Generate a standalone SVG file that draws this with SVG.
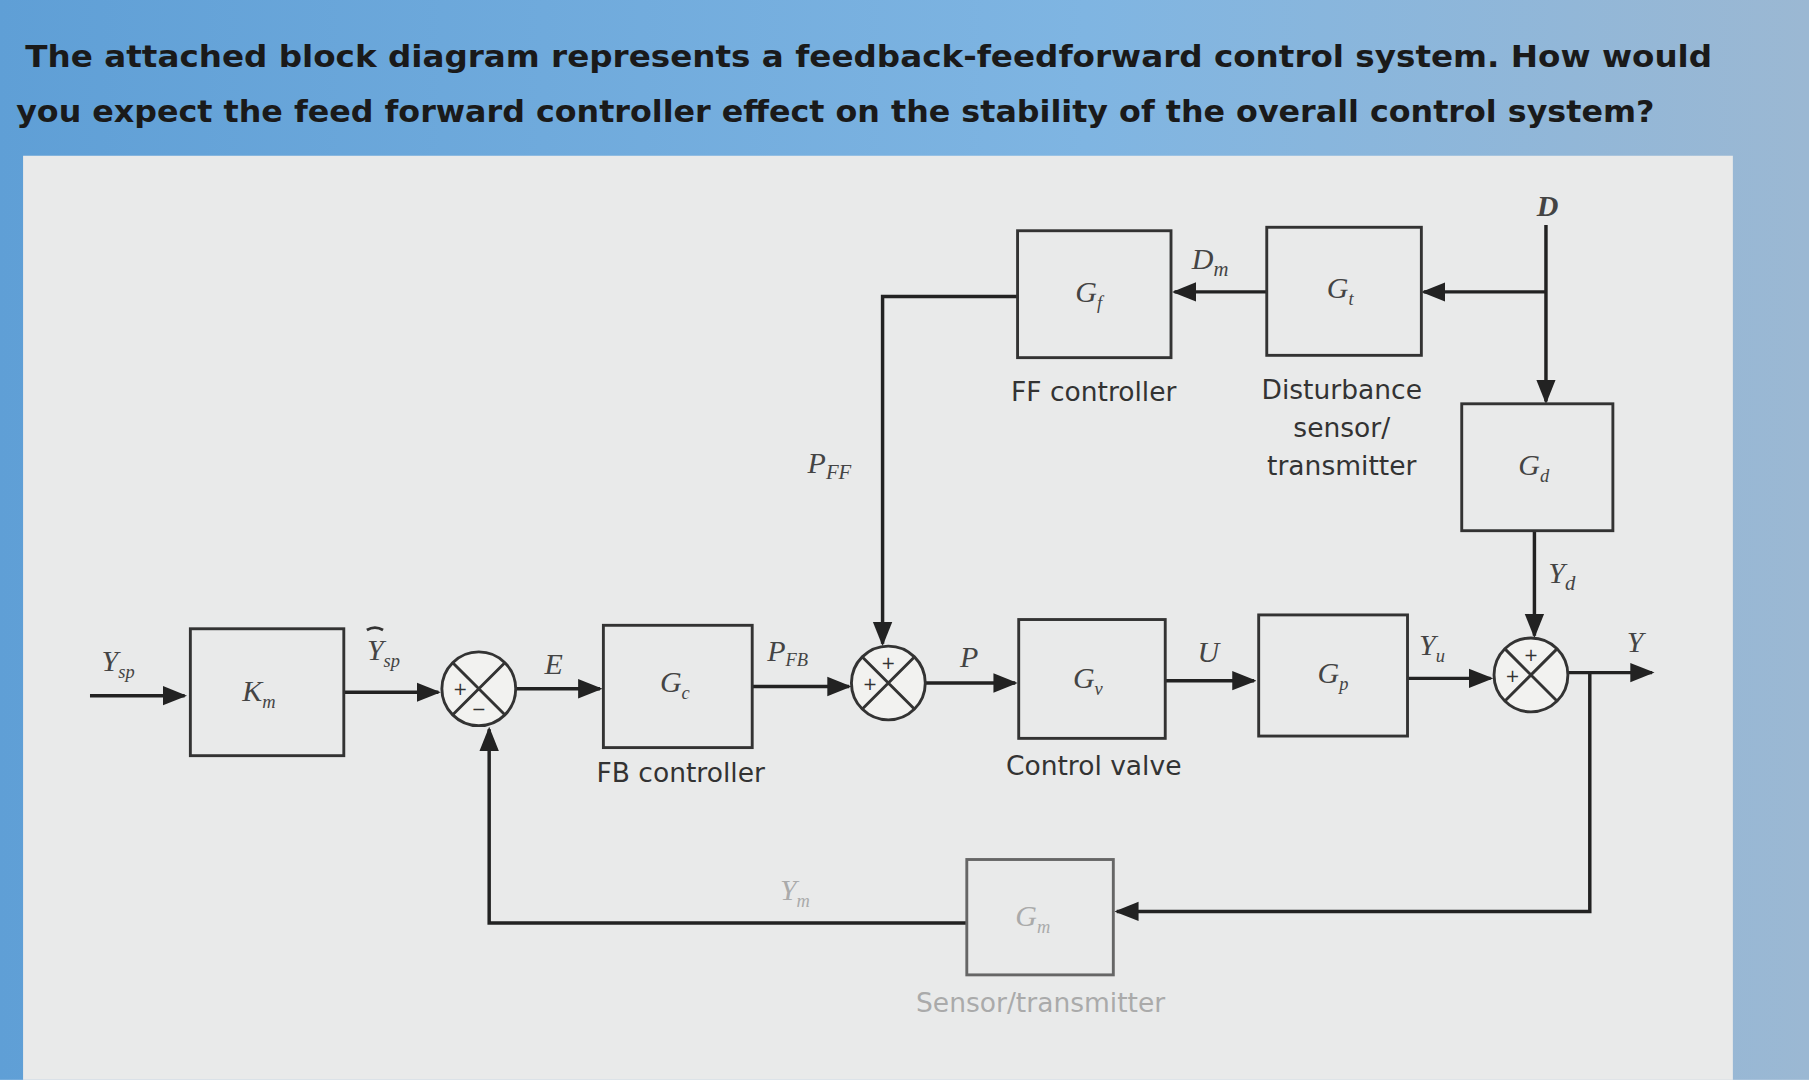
<svg xmlns="http://www.w3.org/2000/svg" width="1809" height="1080" viewBox="0 0 1809 1080">
<defs>
<linearGradient id="bg" x1="0" y1="0" x2="1" y2="0"><stop offset="0" stop-color="#5f9fd6"/><stop offset="0.6" stop-color="#7fb5e2"/><stop offset="1" stop-color="#9bb8d3"/></linearGradient>
<marker id="ar" viewBox="0 0 10 10" refX="9" refY="5" markerWidth="7" markerHeight="7" orient="auto-start-reverse"><path d="M0,1 L10,5 L0,9 z" fill="#222"/></marker>
<style>
.b{fill:none;stroke:#333;stroke-width:2.5}
.l{fill:none;stroke:#222;stroke-width:3}
.s{fill:#f2f2f0;stroke:#333;stroke-width:2.5}
.t{font-family:"Liberation Serif",serif;font-style:italic;font-size:26px;fill:#444}
.c{font-family:"DejaVu Sans",sans-serif;font-size:23px;fill:#333;text-anchor:middle}
.h{font-family:"DejaVu Sans",sans-serif;font-weight:bold;font-size:26px;fill:#1a1a1a}
.g{font-family:"DejaVu Sans",sans-serif;font-size:15px;fill:#333;text-anchor:middle}
.f{fill:#999}
</style>
</defs>
<g transform="scale(1.1537)">
<rect width="1568" height="936" fill="url(#bg)"/>
<rect x="20" y="135" width="1482" height="801" fill="#e9eaea"/>
<text class="h" x="22" y="58" textLength="1462" lengthAdjust="spacingAndGlyphs">The attached block diagram represents a feedback-feedforward control system. How would</text>
<text class="h" x="14" y="106" textLength="1420" lengthAdjust="spacingAndGlyphs">you expect the feed forward controller effect on the stability of the overall control system?</text>
<g id="connectors">
<path class="l" d="M78,603 H160" marker-end="url(#ar)"/>
<path class="l" d="M298,600 H380" marker-end="url(#ar)"/>
<path class="l" d="M448,597 H520" marker-end="url(#ar)"/>
<path class="l" d="M652,595 H736" marker-end="url(#ar)"/>
<path class="l" d="M802,592 H880" marker-end="url(#ar)"/>
<path class="l" d="M1010,590 H1087" marker-end="url(#ar)"/>
<path class="l" d="M1220,588 H1292" marker-end="url(#ar)"/>
<path class="l" d="M1359,583 H1432" marker-end="url(#ar)"/>
<path class="l" d="M1378,583 V790 H968" marker-end="url(#ar)"/>
<path class="l" d="M838,800 H424 V632" marker-end="url(#ar)"/>
<path class="l" d="M1340,195 V348" marker-end="url(#ar)"/>
<path class="l" d="M1340,253 H1234" marker-end="url(#ar)"/>
<path class="l" d="M1098,253 H1018" marker-end="url(#ar)"/>
<path class="l" d="M882,257 H765 V558" marker-end="url(#ar)"/>
<path class="l" d="M1330,460 V551" marker-end="url(#ar)"/>
</g>
<g id="Km"><rect class="b" x="165" y="545" width="133" height="110"/><text class="t" x="210" y="608">K<tspan font-size="16" dy="6">m</tspan></text></g>
<g id="Gc"><rect class="b" x="523" y="542" width="129" height="106"/><text class="t" x="572" y="600">G<tspan font-size="16" dy="6">c</tspan></text><text class="c" x="590" y="678">FB controller</text></g>
<g id="Gv"><rect class="b" x="883" y="537" width="127" height="103"/><text class="t" x="930" y="596">G<tspan font-size="16" dy="6">v</tspan></text><text class="c" x="948" y="672">Control valve</text></g>
<g id="Gp"><rect class="b" x="1091" y="533" width="129" height="105"/><text class="t" x="1142" y="592">G<tspan font-size="16" dy="6">p</tspan></text></g>
<g id="Gm"><rect class="b" x="838" y="745" width="127" height="100" style="stroke:#666"/><text class="t f" x="880" y="803" style="fill:#aaa">G<tspan font-size="16" dy="6">m</tspan></text><text class="c" x="902" y="877" style="fill:#aaa">Sensor/transmitter</text></g>
<g id="Gf"><rect class="b" x="882" y="200" width="133" height="110"/><text class="t" x="932" y="262">G<tspan font-size="16" dy="6">f</tspan></text><text class="c" x="948" y="348">FF controller</text></g>
<g id="Gt"><rect class="b" x="1098" y="197" width="134" height="111"/><text class="t" x="1150" y="258">G<tspan font-size="16" dy="6">t</tspan></text><text class="c" x="1163" y="346">Disturbance</text><text class="c" x="1163" y="379">sensor/</text><text class="c" x="1163" y="412">transmitter</text></g>
<g id="Gd"><rect class="b" x="1267" y="350" width="131" height="110"/><text class="t" x="1316" y="412">G<tspan font-size="16" dy="6">d</tspan></text></g>
<g id="S1"><circle class="s" cx="415" cy="597" r="32"/><path class="b" d="M392,574 L438,620 M438,574 L392,620"/><text class="g" x="399" y="602">+</text><text class="g" x="415" y="620">−</text></g>
<g id="S2"><circle class="s" cx="770" cy="592" r="32"/><path class="b" d="M747,569 L793,615 M793,569 L747,615"/><text class="g" x="770" y="580">+</text><text class="g" x="754" y="598">+</text></g>
<g id="S3"><circle class="s" cx="1327" cy="585" r="32"/><path class="b" d="M1304,562 L1350,608 M1350,562 L1304,608"/><text class="g" x="1327" y="573">+</text><text class="g" x="1311" y="591">+</text></g>
<g id="labels">
<text class="t" x="88" y="582">Y<tspan font-size="16" dy="6">sp</tspan></text>
<text class="t" x="318" y="572">Y<tspan font-size="16" dy="6">sp</tspan></text>
<path d="M318,546 q7,-4 14,0" class="b" stroke-width="1.5"/>
<text class="t" x="472" y="584">E</text>
<text class="t" x="665" y="573">P<tspan font-size="16" dy="4">FB</tspan></text>
<text class="t" x="832" y="578">P</text>
<text class="t" x="1038" y="574">U</text>
<text class="t" x="1230" y="568">Y<tspan font-size="16" dy="6">u</tspan></text>
<text class="t" x="1410" y="565">Y</text>
<text class="t" x="676" y="780" style="fill:#aaa">Y<tspan font-size="16" dy="6">m</tspan></text>
<text class="t" x="1332" y="187" font-weight="bold">D</text>
<text class="t" x="1033" y="233">D<tspan font-size="18" dy="6">m</tspan></text>
<text class="t" x="700" y="410">P<tspan font-size="18" dy="5">FF</tspan></text>
<text class="t" x="1342" y="505">Y<tspan font-size="18" dy="6">d</tspan></text>
</g>
</g>
</svg>
